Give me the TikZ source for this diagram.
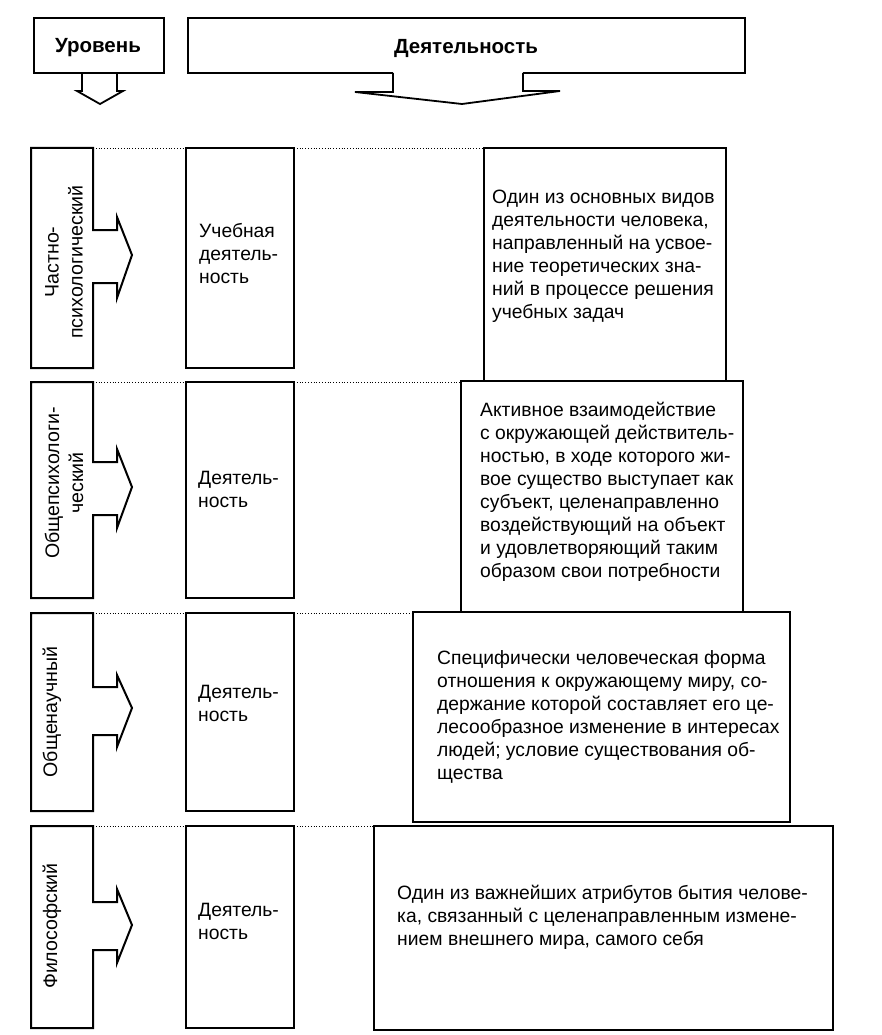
\documentclass[tikz,border=0pt]{standalone}
\usepackage{fontspec}
\setmainfont{Liberation Sans}
\begin{document}
\begin{tikzpicture}[x=1pt,y=-1pt,
  lvl/.style={line width=2pt, line join=miter},
  hdr/.style={line width=1.8pt, line join=miter},
  box/.style={line width=1.3pt},
  dotln/.style={line width=0.8pt, dotted},
  txt/.style={font=\fontsize{19.3}{23}\selectfont, align=left, inner sep=0pt, anchor=north west},
  hdrtxt/.style={font=\bfseries\fontsize{20.5}{24}\selectfont, inner sep=0pt},
  rottxt/.style={font=\fontsize{19.6}{24}\selectfont, align=center, inner sep=0pt, rotate=90}]
\useasboundingbox (0,0) rectangle (882,1035);
% header
\draw[hdr] (34,18) rectangle (164,73);
\node[hdrtxt] (hlevel) at (98,48) {Уровень};
\draw[hdr] (82,73) -- (82,91) -- (77,91) -- (100,104) -- (123,91) -- (117,91) -- (117,73);
\draw[hdr] (393,73) -- (188,73) -- (188,18) -- (745,18) -- (745,73) -- (523,73);
\node[hdrtxt] (hact) at (466,48) {Деятельность};
\draw[hdr] (393,73) -- (393,92) -- (355,92) -- (462,104) -- (560,91) -- (523,91) -- (523,73);
% dotted row lines
\foreach \y/\xr in {148/484, 382/461, 613/413, 826/374} {
  \draw[dotln] (93,\y) -- (186,\y);
  \draw[dotln] (294,\y) -- (\xr,\y);
}
% level blocks
\foreach \T/\B/\ba/\sa/\ty/\sb/\bb in {148/368/217/230/255/283/298, 382/598/449/462/487/515/528, 613/811/675/687/708/735/747, 826/1028/889/902/925/950/963} {
  \draw[lvl] (31,\T) -- (93,\T) -- (93,\sa) -- (117,\sa) -- (117,\ba) -- (132,\ty) -- (117,\bb) -- (117,\sb) -- (93,\sb) -- (93,\B) -- (31,\B) -- cycle;
  \draw[box] (186,\T) rectangle (294,\B);
}
\node[rottxt] (l1) at (64,262) {Частно-\\психологический};
\node[rottxt] (l2) at (64,483) {Общепсихологи-\\ческий};
\node[rottxt] (l3) at (52,712) {Общенаучный};
\node[rottxt] (l4) at (52,926) {Философский};
\node[txt] (m1) at (199,223) {Учебная\\деятель-\\ность};
\node[txt] (m2) at (198,471) {Деятель-\\ность};
\node[txt] (m3) at (198,685) {Деятель-\\ность};
\node[txt] (m4) at (198,903) {Деятель-\\ность};
% right boxes
\draw[box] (484,148) rectangle (726,381);
\draw[box] (461,381) rectangle (743,612);
\draw[box] (413,612) rectangle (790,822);
\draw[box] (374,826) rectangle (833,1030);
\node[txt] (d1) at (492,190) {Один из основных видов\\деятельности человека,\\направленный на усвое-\\ние теоретических зна-\\ний в процессе решения\\учебных задач};
\node[txt] (d2) at (480,402) {Активное взаимодействие\\с окружающей действитель-\\ностью, в ходе которого жи-\\вое существо выступает как\\субъект, целенаправленно\\воздействующий на объект\\и удовлетворяющий таким\\образом свои потребности};
\node[txt] (d3) at (437,650) {Специфически человеческая форма\\отношения к окружающему миру, со-\\держание которой составляет его це-\\лесообразное изменение в интересах\\людей; условие существования об-\\щества};
\node[txt] (d4) at (397,885) {Один из важнейших атрибутов бытия челове-\\ка, связанный с целенаправленным измене-\\нием внешнего мира, самого себя};
\end{tikzpicture}
\end{document}
